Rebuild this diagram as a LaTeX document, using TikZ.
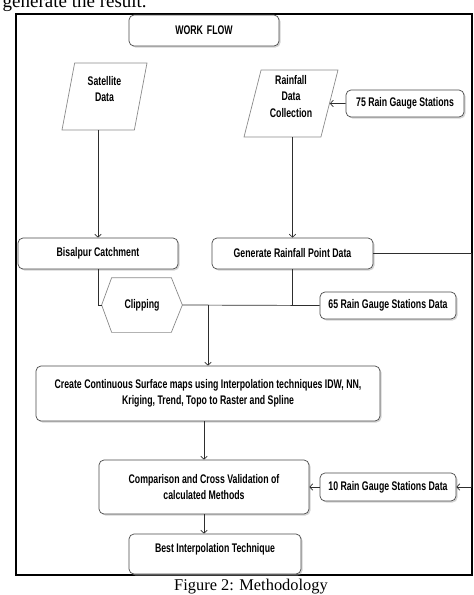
\documentclass[tikz,border=0pt]{standalone}
\usepackage{fontspec}
\usetikzlibrary{shapes.geometric, shadows, arrows.meta}
\newfontfamily\boxfont{Liberation Sans}[FakeStretch=0.70]
\newfontfamily\capfont{Liberation Serif}
\definecolor{edgegray}{HTML}{4A4A4A}
\definecolor{linegray}{HTML}{2E2E2E}
\definecolor{hexgray}{HTML}{8A8A8A}
\definecolor{shadowgray}{HTML}{A8A8A8}

\begin{document}
\begin{tikzpicture}[x=1pt, y=-1pt, >={Straight Barb[length=3pt,width=6.5pt]}, line width=0.7pt,
                    font=\boxfont\bfseries\fontsize{12.5}{16.5}\selectfont]

\useasboundingbox (0,0) rectangle (474,595);

\tikzstyle{box}=[rectangle, rounded corners=5pt, draw=edgegray, fill=white, align=center,
                 drop shadow={shadow xshift=1.5pt, shadow yshift=-1.5pt, fill=shadowgray}]
\tikzstyle{data}=[trapezium, trapezium left angle=75, trapezium right angle=105,
                  trapezium stretches body, draw=hexgray, fill=white, align=center, minimum height=67pt]
\tikzstyle{flow}=[->, draw=linegray]
\tikzstyle{link}=[draw=linegray]

% outer frame and page text
\draw[line width=1.6pt] (16,14) rectangle (472,575);
\draw    (-1,7)     node[anchor=base west, font=\capfont\fontsize{19}{22}\selectfont] (prev) {generate the result.}
         (251,590)  node[anchor=base, font=\capfont\fontsize{16.4}{19}\selectfont] (caption) {Figure 2: Methodology};

% boxes
\draw    (204,30.5)  node[box, minimum width=150pt, minimum height=31pt] (work) {WORK\hspace{4pt}FLOW}
         (104.5,96.5) node[data, minimum width=85pt, text depth=15pt] (sat) {Satellite\\Data}
         (291,103.5) node[data, minimum width=94pt, text depth=15pt] (rain) {Rainfall\\Data\\Collection}
         (405,103.5) node[box, minimum width=118pt, minimum height=27pt] (g75) {75 Rain Gauge Stations}
         (98,253.5)  node[box, minimum width=160pt, minimum height=31pt] (bis) {Bisalpur Catchment}
         (292.5,253.5) node[box, minimum width=161pt, minimum height=31pt] (gen) {Generate Rainfall Point Data}
         (142,305)   node[minimum width=80pt, minimum height=54pt] (clip) {Clipping}
         (388,305.5) node[box, minimum width=136pt, minimum height=27pt] (g65) {65 Rain Gauge Stations Data}
         (208,393.5) node[box, minimum width=344pt, minimum height=55pt] (create)
                     {Create Continuous Surface maps using Interpolation techniques IDW, NN,\\Kriging, Trend, Topo to Raster and Spline}
         (204,487)   node[box, minimum width=210pt, minimum height=54pt] (comp)
                     {Comparison and Cross Validation of\\calculated Methods}
         (388,487)   node[box, minimum width=136pt, minimum height=28pt] (g10) {10 Rain Gauge Stations Data}
         (215,554)   node[box, minimum width=172pt, minimum height=40pt, text depth=12pt] (best) {Best Interpolation Technique};

\draw[draw=hexgray] (clip.west) -- ([xshift=10pt]clip.north west) -- ([xshift=-11pt]clip.north east)
      -- (clip.east) -- ([xshift=-11pt]clip.south east) -- ([xshift=10pt]clip.south west) -- cycle;

\coordinate (edge) at (471,300);

% connectors
\draw[flow] (sat.south -| bis.north) -- (bis.north);
\draw[flow] (rain.south -| gen.north) -- (gen.north);
\draw[flow] (g75.west) -- (rain.east);

\draw[link] (bis.south) -- (bis.south |- clip.west) -- (clip.west);
\draw[link] (clip.east) -- (g65.west);
\draw[link] (gen.south) -- (gen.south |- g65.west);
\draw[flow] (create.north |- clip.east) -- (create.north);

\draw[flow] (gen.east) -- (gen.east -| edge) -- (g10.east -| edge) -- (g10.east);
\draw[flow] (g10.west) -- (comp.east);

\draw[flow] (create.south -| comp.north) -- (comp.north);
\draw[flow] (comp.south) -- (comp.south |- best.north);

\end{tikzpicture}
\end{document}
